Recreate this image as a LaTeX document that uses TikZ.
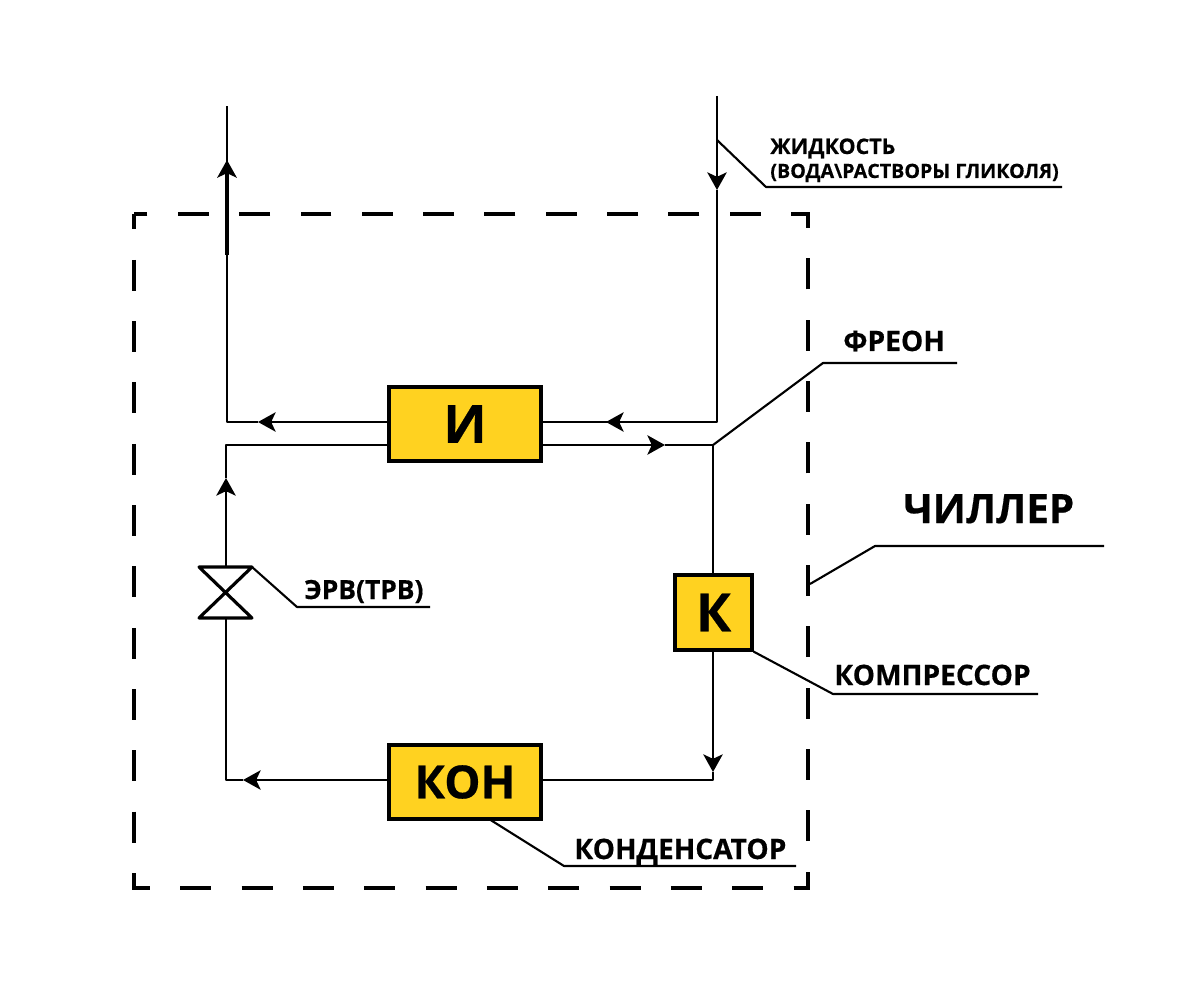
\documentclass[tikz,border=0pt]{standalone}
\usepackage{fontspec}
\setmainfont{Open Sans}[BoldFeatures={FakeBold=0.5}]
\usetikzlibrary{arrows.meta}
\definecolor{boxyellow}{HTML}{FFD220}
\tikzset{
  pipe/.style={line width=1.5pt, line join=round},
  flow/.style={pipe, -{Stealth[length=10pt, width=11pt, inset=2.5pt]}},
  leader/.style={line width=1.2pt, line join=round},
  unit/.style={draw, fill=boxyellow, line width=1.8pt, inner sep=0pt, font=\fontsize{30}{30}\selectfont\bfseries},
  lbl/.style={anchor=base west, inner sep=0pt, font=\fontsize{16}{16}\selectfont\bfseries}
}
\begin{document}
\begin{tikzpicture}[x=0.02cm, y=-0.02cm]
		\useasboundingbox (0,0) rectangle (1200,996);
		\draw[line width=1.9pt, dash pattern=on 17.6pt off 17.3pt, dash phase=8.8pt] (134,214) rectangle (808,888);

		\node[unit, minimum width=152*0.02cm, minimum height=74*0.02cm] (I) at (465,424) {И};
		\node[unit, minimum width=77*0.02cm, minimum height=75*0.02cm] (K) at (713.5,612.5) {К};
		\node[unit, minimum width=152*0.02cm, minimum height=74*0.02cm, font=\fontsize{26}{26}\selectfont\bfseries] (KON) at (465,782) {КОН};

		\coordinate (liqin) at (717,96);
		\coordinate (liqtip) at (717,190);
		\coordinate (liqturn) at (717,422);
		\coordinate (liqtip2) at (606,422);
		\coordinate (liqtip3) at (258,422);
		\coordinate (liqback) at (227,422);
		\coordinate (liqtip4) at (227,160);
		\coordinate (liqout) at (227,106);
		\coordinate (frturn) at (713,445);
		\coordinate (frtip) at (665,445);
		\coordinate (frtip2) at (713,772);
		\coordinate (frturn2) at (713,780);
		\coordinate (frtip3) at (243,780);
		\coordinate (frturn3) at (226,780);
		\coordinate (frtip4) at (226,478);
		\coordinate (frturn4) at (226,445);

		\coordinate (v1) at (199,567);
		\coordinate (v2) at (252,567);
		\coordinate (v3) at (199,618);
		\coordinate (v4) at (252,618);
		\coordinate (vtop) at (226,567);
		\coordinate (vbot) at (226,618);

		\draw[flow] (liqin) -- (liqtip);
		\draw[pipe] (liqtip) -- (liqturn) -- (I.east |- liqturn);
		\draw[flow] (liqturn) -- (liqtip2);
		\draw[flow] (I.west |- liqback) -- (liqtip3);
		\draw[pipe] (liqtip3) -- (liqback) -- (liqout);
		\draw[flow, line width=2.4pt] (227,255) -- (liqtip4);

		\draw[flow] (I.east |- frtip) -- (frtip);
		\draw[pipe] (frtip) -- (frturn) -- (K.north -| frturn);
		\draw[flow] (K.south -| frturn) -- (frtip2);
		\draw[pipe] (frtip2) -- (frturn2) -- (KON.east |- frturn2);
		\draw[flow] (KON.west |- frtip3) -- (frtip3);
		\draw[pipe] (frtip3) -- (frturn3) -- (vbot);
		\draw[flow] (vtop) -- (frtip4);
		\draw[pipe] (frtip4) -- (frturn4) -- (I.west |- frturn4);

		\draw[pipe, line width=1.8pt] (v1) -- (v2) -- (v3) -- (v4) -- (v1) -- cycle;

		\node[lbl, font=\fontsize{12.2}{12.2}\selectfont\bfseries] (liq1) at (770,154) {ЖИДКОСТЬ};
		\node[lbl, font=\fontsize{11.2}{11.2}\selectfont\bfseries] (liq2) at (770,178) {(ВОДА\textbackslash РАСТВОРЫ ГЛИКОЛЯ)};
		\node[lbl] (fr) at (843,351) {ФРЕОН};
		\node[lbl, font=\fontsize{23}{23}\selectfont\bfseries] (ch) at (903,523) {ЧИЛЛЕР};
		\node[lbl, font=\fontsize{15}{15}\selectfont\bfseries] (erv) at (304,599) {ЭРВ(ТРВ)};
		\node[lbl] (komp) at (834,685) {КОМПРЕССОР};
		\node[lbl] (kond) at (574,859) {КОНДЕНСАТОР};

		\coordinate (a1) at (766,187);
		\coordinate (a2) at (1062,187);
		\coordinate (b1) at (823,363);
		\coordinate (b2) at (957,363);
		\coordinate (c0) at (810,584);
		\coordinate (c1) at (875,546);
		\coordinate (c2) at (1104,546);
		\coordinate (d1) at (297,607);
		\coordinate (d2) at (430,607);
		\coordinate (e1) at (833,694);
		\coordinate (e2) at (1038,694);
		\coordinate (f0) at (489,819);
		\coordinate (f1) at (564,866);
		\coordinate (f2) at (796,866);

		\draw[leader] (717,140) -- (a1) -- (a2);
		\draw[leader] (frturn) -- (b1) -- (b2);
		\draw[leader] (c0) -- (c1) -- (c2);
		\draw[leader] (v2) -- (d1) -- (d2);
		\draw[leader] (K.south east) -- (e1) -- (e2);
		\draw[leader] (f0) -- (f1) -- (f2);
	\end{tikzpicture}
\end{document}
